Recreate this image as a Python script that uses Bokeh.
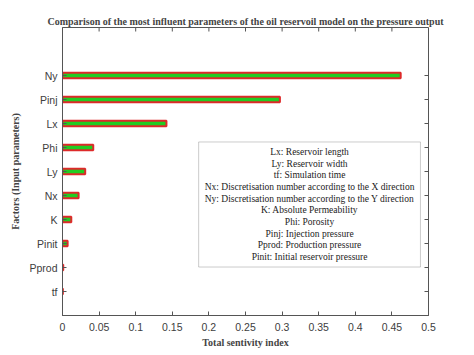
from bokeh.plotting import figure
from bokeh.models import LinearAxis, Range1d, FixedTicker, Label, BoxAnnotation
from bokeh.embed import file_html
from bokeh.resources import INLINE

factors = ["tf", "Pprod", "Pinit", "K", "Nx", "Ly", "Phi", "Lx", "Pinj", "Ny"]
sensitivity = [0.0005, 0.001, 0.007, 0.012, 0.022, 0.031, 0.042, 0.142, 0.297, 0.462]
x_ticks = [0, 0.05, 0.1, 0.15, 0.2, 0.25, 0.3, 0.35, 0.4, 0.45, 0.5]
legend_lines = [
    "Lx: Reservoir length",
    "Ly: Reservoir width",
    "tf: Simulation time",
    "Nx: Discretisation number according to the X direction",
    "Ny: Discretisation number according to the Y direction",
    "K: Absolute Permeability",
    "Phi: Porosity",
    "Pinj: Injection pressure",
    "Pprod: Production pressure",
    "Pinit: Initial reservoir pressure",
]

ypos = list(range(1, len(factors) + 1))
X_MAX, Y_MAX = 0.5, 12

p = figure(width=474, height=355, output_backend="svg", toolbar_location=None,
           x_range=Range1d(0, X_MAX), y_range=Range1d(0, Y_MAX),
           x_axis_location=None, y_axis_location=None,
           min_border_left=62, min_border_right=46, min_border_top=27, min_border_bottom=40)
p.grid.visible = False
p.outline_line_color = "#555555"
p.background_fill_color = "white"
p.border_fill_color = "white"

p.title.text = "Comparison of the most influent parameters of the oil reservoil model on the pressure output"
p.title.text_font = "Liberation Serif"
p.title.text_font_size = "10px"
p.title.text_font_style = "bold"
p.title.align = "center"
p.title.standoff = 2

serif = "Liberation Serif"
sans = "Liberation Sans"

def style(ax):
    ax.axis_line_color = "#555555"
    ax.major_tick_line_color = "#555555"
    ax.major_tick_in = 4
    ax.major_tick_out = 0
    ax.minor_tick_line_color = None
    ax.major_label_text_font = sans
    ax.major_label_text_font_size = "10.5px"
    ax.major_label_text_color = "#404040"

xb = LinearAxis(ticker=FixedTicker(ticks=x_ticks), axis_label="Total sentivity index")
style(xb)
xb.major_label_overrides = {t: ("0" if t == 0 else ("%g" % t)) for t in x_ticks}
xb.major_label_standoff = 7
xb.axis_label_text_font = serif
xb.axis_label_text_font_size = "10px"
xb.axis_label_text_font_style = "bold"
xb.axis_label_standoff = 3
p.add_layout(xb, "below")

yl = LinearAxis(ticker=FixedTicker(ticks=ypos), axis_label="Factors (Input parameters)")
style(yl)
yl.major_label_overrides = {y: f for y, f in zip(ypos, factors)}
yl.major_label_standoff = 5
yl.axis_label_text_font = serif
yl.axis_label_text_font_size = "10px"
yl.axis_label_text_font_style = "bold"
yl.axis_label_standoff = 5
p.add_layout(yl, "left")

# inward ticks on the top and right edges of the box (as in a boxed MATLAB axes)
tick_x = 4 * X_MAX / 366.0
tick_y = 4 * Y_MAX / 288.0
p.segment(x0=x_ticks, x1=x_ticks, y0=[Y_MAX] * len(x_ticks), y1=[Y_MAX - tick_y] * len(x_ticks),
          line_color="#555555", line_width=1)
p.segment(x0=[X_MAX] * len(ypos), x1=[X_MAX - tick_x] * len(ypos), y0=ypos, y1=ypos,
          line_color="#555555", line_width=1)

p.hbar(y=ypos, right=sensitivity, left=0, height=0.22,
       fill_color="#22cc22", line_color="#dd2a2a", line_width=2)

# legend text box (data coordinates)
box_left, box_right, box_bottom, box_top = 0.186, 0.489, 2.02, 7.23
p.add_layout(BoxAnnotation(left=box_left, right=box_right, bottom=box_bottom, top=box_top,
                           fill_color="white", fill_alpha=1.0,
                           line_color="#555555", line_width=1))
xc = (box_left + box_right) / 2
y0, dy = 6.82, 0.487
for i, t in enumerate(legend_lines):
    p.add_layout(Label(x=xc, y=y0 - i * dy, text=t, text_align="center",
                       text_baseline="middle", text_font=serif,
                       text_font_size="9.5px", text_color="#222222"))

open("out.html", "w").write(file_html(p, INLINE))
